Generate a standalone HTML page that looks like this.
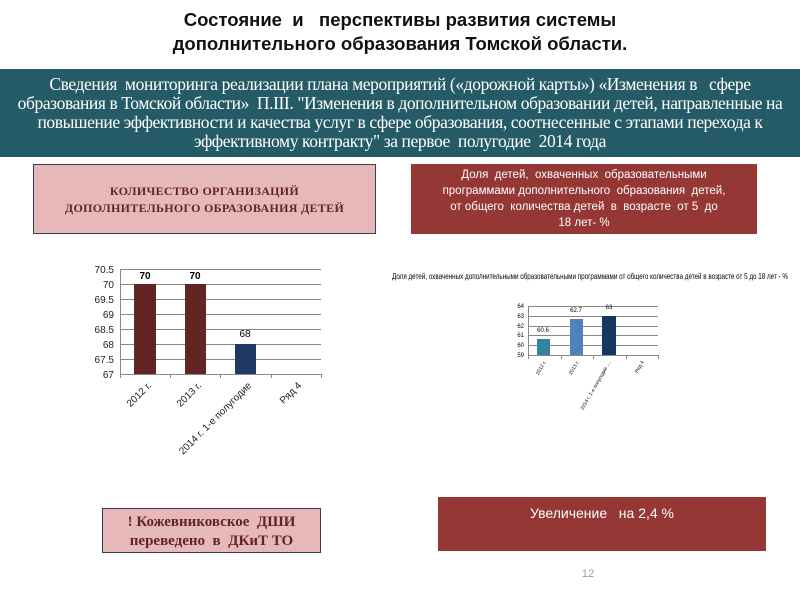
<!DOCTYPE html>
<html><head><meta charset="utf-8"><style>
body{margin:0;width:800px;height:600px;background:#fff;position:relative;overflow:hidden;font-family:"Liberation Sans","Noto Sans CJK SC",sans-serif}
.abs{position:absolute}
</style></head><body>
<div class="abs" style="left:0;top:8px;width:800px;text-align:center;font-weight:bold;font-size:18.5px;line-height:24px;color:#111">Состояние &nbsp;и &nbsp;&nbsp;перспективы развития системы<br>дополнительного образования Томской области.</div>
<div class="abs" style="left:0;top:69px;width:800px;height:88px;background:#245b66;"></div>
<div class="abs" style="left:-100px;top:75px;width:1000px;color:#fff;font-family:'Liberation Serif',serif;font-size:17.5px;line-height:19px;text-align:center;letter-spacing:-0.4px;transform:scaleX(1.0);transform-origin:center top">Сведения &nbsp;мониторинга реализации плана мероприятий («дорожной карты») «Изменения в &nbsp;&nbsp;сфере<br>образования в Томской области» &nbsp;П.III. "Изменения в дополнительном образовании детей, направленные на<br>повышение эффективности и качества услуг в сфере образования, соотнесенные с этапами перехода к<br>эффективному контракту" за первое &nbsp;полугодие &nbsp;2014 года</div>
<div class="abs" style="left:33px;top:164px;width:343px;height:70px;background:#e6b9b8;border:1px solid #3c3c55;box-sizing:border-box;color:#632523;font-family:'Liberation Serif',serif;font-weight:bold;font-size:12px;line-height:17px;text-align:center;padding-top:18px;letter-spacing:0.3px">КОЛИЧЕСТВО ОРГАНИЗАЦИЙ<br>ДОПОЛНИТЕЛЬНОГО ОБРАЗОВАНИЯ ДЕТЕЙ</div>
<div class="abs" style="left:411px;top:164px;width:346px;height:70px;background:#953735;color:#fff;font-size:11.5px;line-height:16px;text-align:center;padding-top:3px;box-sizing:border-box">Доля &nbsp;детей, &nbsp;охваченных &nbsp;образовательными<br>программами дополнительного &nbsp;образования &nbsp;детей,<br>от общего &nbsp;количества детей &nbsp;в &nbsp;возрасте &nbsp;от 5 &nbsp;до<br>18 лет- %</div>

<svg class="abs" style="left:0;top:0" width="800" height="600" font-family="Liberation Sans, sans-serif">
<g stroke="#888" stroke-width="1">
<line x1="120" x2="321" y1="269.5" y2="269.5"/><line x1="120" x2="321" y1="284.5" y2="284.5"/><line x1="120" x2="321" y1="299.5" y2="299.5"/><line x1="120" x2="321" y1="314.5" y2="314.5"/><line x1="120" x2="321" y1="329.5" y2="329.5"/><line x1="120" x2="321" y1="344.5" y2="344.5"/><line x1="120" x2="321" y1="359.5" y2="359.5"/><line x1="120" x2="321" y1="374.5" y2="374.5"/>
<line x1="120.5" x2="120.5" y1="269" y2="378"/><line x1="170.5" x2="170.5" y1="374" y2="378"/><line x1="220.5" x2="220.5" y1="374" y2="378"/><line x1="271.5" x2="271.5" y1="374" y2="378"/><line x1="321.5" x2="321.5" y1="374" y2="378"/>
</g>
<rect x="134" y="284" width="22" height="90" fill="#632523"/>
<rect x="185" y="284" width="21" height="90" fill="#632523"/>
<rect x="235" y="344" width="21" height="30" fill="#1f3b63"/>
<g font-size="10" fill="#222" text-anchor="end">
<text x="114" y="273">70.5</text><text x="114" y="288">70</text><text x="114" y="303">69.5</text><text x="114" y="318">69</text><text x="114" y="333">68.5</text><text x="114" y="348">68</text><text x="114" y="363">67.5</text><text x="114" y="378">67</text>
</g>
<text x="145" y="279" font-size="10" font-weight="bold" text-anchor="middle">70</text>
<text x="195" y="279" font-size="10" font-weight="bold" text-anchor="middle">70</text>
<text x="245" y="337" font-size="10" text-anchor="middle">68</text>
<g font-size="10" fill="#222" text-anchor="end">
<text transform="translate(152,386) rotate(-45)">2012 г.</text>
<text transform="translate(202,386) rotate(-45)">2013 г.</text>
<text transform="translate(252,386) rotate(-45)">2014 г. 1-е полугодие</text>
<text transform="translate(302,386) rotate(-45)">Ряд 4</text>
</g>

<text x="590" y="279" font-size="8.5" text-anchor="middle" textLength="396" lengthAdjust="spacingAndGlyphs" fill="#000">Доля детей, охваченных дополнительными образовательными программами от общего количества детей в возрасте от 5 до 18 лет - %</text>
<g stroke="#888" stroke-width="1">
<line x1="528" x2="658" y1="306.5" y2="306.5"/><line x1="528" x2="658" y1="316.5" y2="316.5"/><line x1="528" x2="658" y1="326.5" y2="326.5"/><line x1="528" x2="658" y1="335.5" y2="335.5"/><line x1="528" x2="658" y1="345.5" y2="345.5"/><line x1="528" x2="658" y1="355.5" y2="355.5"/>
<line x1="528.5" x2="528.5" y1="306" y2="359"/><line x1="561.5" x2="561.5" y1="355" y2="359"/><line x1="593.5" x2="593.5" y1="355" y2="359"/><line x1="626.5" x2="626.5" y1="355" y2="359"/><line x1="658.5" x2="658.5" y1="355" y2="359"/>
</g>
<rect x="537" y="339" width="13" height="16" fill="#31859c"/>
<rect x="570" y="319" width="13" height="36" fill="#4f81bd"/>
<rect x="602" y="316" width="14" height="39" fill="#17375e"/>
<g font-size="6" text-anchor="end" fill="#000">
<text x="524" y="308">64</text><text x="524" y="318">63</text><text x="524" y="328">62</text><text x="524" y="337">61</text><text x="524" y="347">60</text><text x="524" y="357">59</text>
</g>
<g font-size="6" text-anchor="middle"><text x="543" y="332">60.6</text><text x="576" y="312">62.7</text><text x="609" y="309">63</text></g>
<g font-size="5" text-anchor="end">
<text transform="translate(546,362) rotate(-60)">2012 г.</text>
<text transform="translate(579,362) rotate(-60)">2013 г.</text>
<text transform="translate(611,362) rotate(-60)">2014 г. 1-е полугодие ....</text>
<text transform="translate(644,362) rotate(-60)">Ряд 4</text>
</g>
<text x="588" y="577" font-size="11" fill="#999" text-anchor="middle">12</text>
</svg>

<div class="abs" style="left:102px;top:508px;width:219px;height:45px;background:#e6b9b8;border:1px solid #3c3c55;box-sizing:border-box;color:#632523;font-family:'Liberation Serif',serif;font-weight:bold;font-size:15px;line-height:19px;text-align:center;padding-top:4px">! Кожевниковское &nbsp;ДШИ<br>переведено &nbsp;в &nbsp;ДКиТ ТО</div>
<div class="abs" style="left:438px;top:497px;width:328px;height:54px;background:#953735;color:#fff;font-size:14px;text-align:center;padding-top:8px;box-sizing:border-box">Увеличение &nbsp;&nbsp;на 2,4 %</div>
</body></html>
